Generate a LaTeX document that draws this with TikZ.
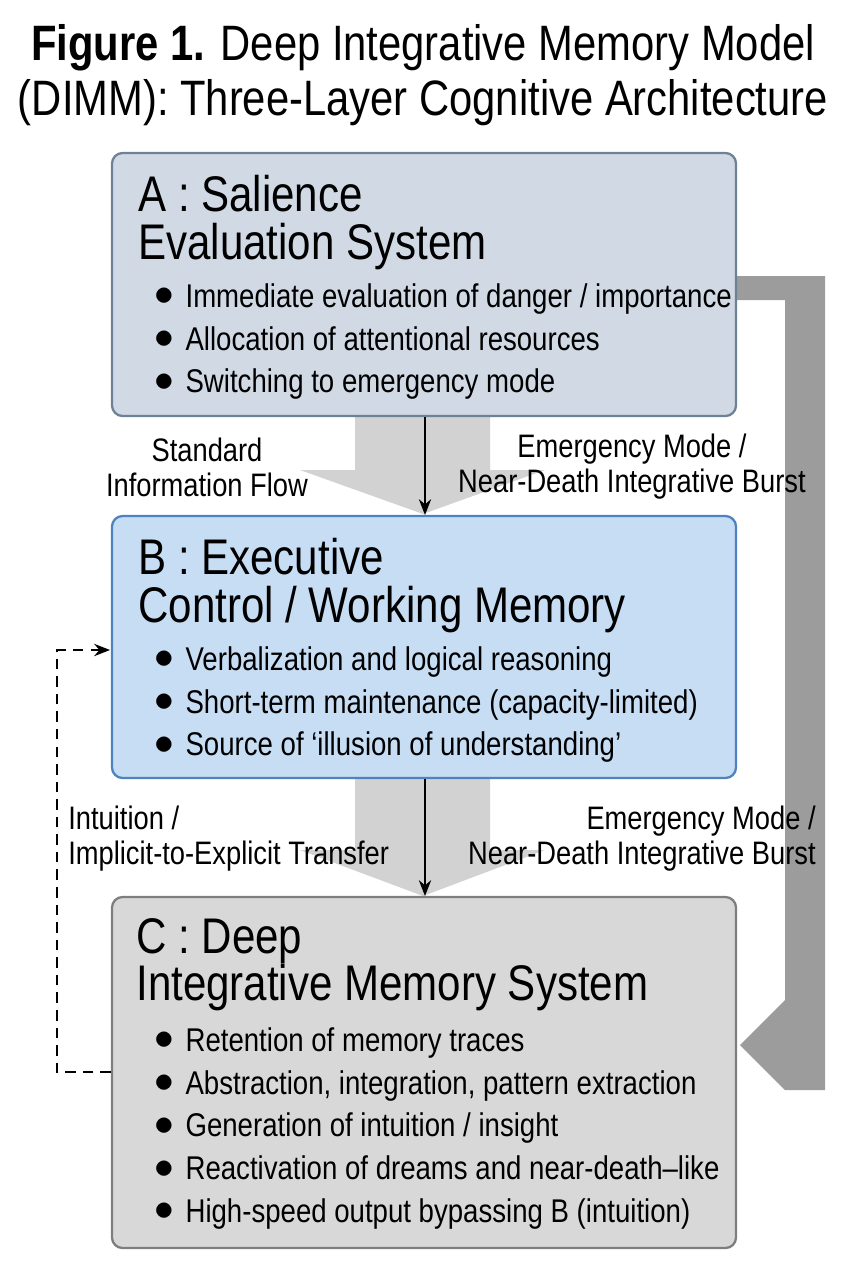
\documentclass[tikz,border=0pt]{standalone}
\usepackage{fontspec}
\setmainfont{Liberation Sans}[FakeStretch=0.84]
\usetikzlibrary{arrows.meta}
\definecolor{boxA}{HTML}{D0D9E4}\definecolor{lineA}{HTML}{6F8196}
\definecolor{boxB}{HTML}{C6DDF4}\definecolor{lineB}{HTML}{4F83BD}
\definecolor{boxC}{HTML}{D8D8D8}\definecolor{lineC}{HTML}{7E7E7E}
\definecolor{flow}{HTML}{D2D2D2}\definecolor{side}{HTML}{9C9C9C}
\newcommand{\bl}{\raisebox{0.1ex}{\scalebox{1.3}{$\bullet$}}\hspace{0.35em}}
\begin{document}
\begin{tikzpicture}[x=0.02cm,y=-0.02cm,
  box/.style={rounded corners=6pt,line width=1.3pt},
  head/.style={anchor=north west,align=left,font=\fontsize{28.5}{27}\selectfont,inner sep=0pt,text depth=0pt},
  bul/.style={anchor=north west,align=left,font=\fontsize{18.7}{24.4}\selectfont,inner sep=0pt},
  lab/.style={font=\fontsize{18.5}{20}\selectfont,inner sep=0pt},
  thin/.style={-{Stealth[length=9pt,width=7pt]},line width=1pt}]
\useasboundingbox (0,0) rectangle (847,1264);
\node[font=\fontsize{28.3}{31}\selectfont,align=center] (title) at (423,75)
 {\textbf{Figure 1.} Deep Integrative Memory Model\\(DIMM): Three-Layer Cognitive Architecture};
% wide flow arrows
\fill[flow] (355,417) -- (490,417) -- (490,470) -- (545,470) -- (423,514) -- (300,470) -- (355,470) -- cycle;
\fill[flow] (355,779) -- (490,779) -- (490,850) -- (545,850) -- (423,896) -- (300,850) -- (355,850) -- cycle;
% side arrow
\fill[side] (737,276) -- (825,276) -- (825,1090) -- (785,1090) -- (740,1045) -- (785,1000) -- (785,300) -- (737,300) -- cycle;
% boxes
\draw[box,fill=boxA,draw=lineA] (112,153) rectangle (736,416);
\draw[box,fill=boxB,draw=lineB] (112,516) rectangle (736,778);
\draw[box,fill=boxC,draw=lineC] (112,897) rectangle (736,1248);
\node[head] (ha) at (138,175) {A : Salience\\Evaluation System};
\node[bul] (ba) at (154,283) {\bl Immediate evaluation of danger / importance\\\bl Allocation of attentional resources\\\bl Switching to emergency mode};
\node[head] (hb) at (138,538) {B : Executive\\Control / Working Memory};
\node[bul] (bb) at (154,646) {\bl Verbalization and logical reasoning\\\bl Short-term maintenance (capacity-limited)\\\bl Source of `illusion of understanding'};
\node[head] (hc) at (136,918) {C : Deep\\Integrative Memory System};
\node[bul] (bc) at (154,1027) {\bl Retention of memory traces\\\bl Abstraction, integration, pattern extraction\\\bl Generation of intuition / insight\\\bl Reactivation of dreams and near-death--like\\\bl High-speed output bypassing B (intuition)};
% connectors
\coordinate (a1) at (425,417); \coordinate (b1) at (425,515);
\coordinate (b2) at (425,779); \coordinate (c2) at (425,896);
\draw[thin] (a1) -- (b1);
\draw[thin] (b2) -- (c2);
\coordinate (d0) at (111,1072); \coordinate (d1) at (57,1072);
\coordinate (d2) at (57,650); \coordinate (d3) at (110,650);
\draw[thin,dashed,line width=1.2pt,dash pattern=on 6pt off 4pt] (d0) -- (d1) -- (d2) -- (d3);
% labels
\node[lab,align=center] (l1) at (207,467) {Standard\\Information Flow};
\node[lab,align=center] (l2) at (632,467) {Emergency Mode /\\Near-Death Integrative Burst};
\node[lab,align=left,anchor=west] (l3) at (68,839) {Intuition /\\Implicit-to-Explicit Transfer};
\node[lab,align=right,anchor=east] (l4) at (816,839) {Emergency Mode /\\Near-Death Integrative Burst};
\end{tikzpicture}
\end{document}
